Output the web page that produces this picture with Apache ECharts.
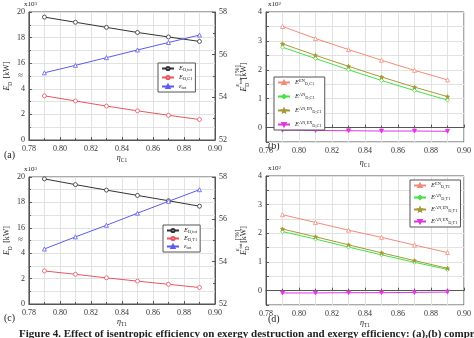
<!DOCTYPE html>
<html><head><meta charset="utf-8">
<script src="https://cdn.jsdelivr.net/npm/echarts@6/dist/echarts.min.js"></script>
<style>html,body{margin:0;padding:0;background:#fff}#c{width:474px;height:338px}</style>
</head><body><div id="c"></div>
<script>
// ---- data ----
const xVals = [0.79, 0.81, 0.83, 0.85, 0.87, 0.89];
// (a) compressor C1
const edTotC1 = [19.6, 19.2, 18.8, 18.4, 18.05, 17.7];
const edC1 = [3.45, 3.05, 2.65, 2.28, 1.93, 1.6];
const epsTotC1 = [55.15, 55.5, 55.86, 56.22, 56.57, 56.92];
// (b) compressor C1 splitting
const enC1 = [3.5, 3.08, 2.7, 2.33, 1.98, 1.65];
const anC1 = [2.78, 2.39, 2.0, 1.63, 1.28, 0.95];
const anEnC1 = [2.9, 2.5, 2.12, 1.75, 1.4, 1.07];
const anExC1 = [-0.09, -0.1, -0.11, -0.12, -0.12, -0.13];
// (c) turbine T1
const edTotT1 = [19.85, 19.4, 18.97, 18.55, 18.13, 17.7];
const edT1 = [2.6, 2.34, 2.06, 1.8, 1.55, 1.3];
const epsTotT1 = [54.6, 55.17, 55.72, 56.29, 56.85, 57.4];
// (d) turbine T1 splitting
const enT1 = [2.65, 2.38, 2.11, 1.86, 1.59, 1.33];
const anT1 = [2.06, 1.8, 1.52, 1.25, 0.99, 0.74];
const anEnT1 = [2.15, 1.88, 1.6, 1.32, 1.05, 0.78];
const anExT1 = [-0.08, -0.08, -0.07, -0.07, -0.06, -0.05];
const xTicks = [0.78, 0.80, 0.82, 0.84, 0.86, 0.88, 0.90];
const leftTicksA = [0, 2, 4, 16, 18, 20];
const rightTicks = [52, 54, 56, 58];

// ---- build ----
const FONT = 'Liberation Serif';
const brk = v => v >= 10 ? v - 10 : v;       // broken axis: 15-20 drawn above 0-5
const pts = (ys, f) => xVals.map((x, i) => [x, f ? f(ys[i]) : ys[i]]);
const mkRich = (base) => ({
  i: {fontStyle: 'italic', fontFamily: FONT, fontSize: base, color: '#222'},
  s: {fontFamily: FONT, fontSize: base * 0.68, color: '#222', verticalAlign: 'bottom', padding: [base * 0.45, 0, 0, 0]},
  p: {fontFamily: FONT, fontSize: base * 0.68, color: '#222', verticalAlign: 'top', padding: [0, 0, base * 0.45, 0]},
  n: {fontFamily: FONT, fontSize: base, color: '#222'}
});
const rich = mkRich(8);
const lrich = mkRich(6.5);
const grids = [
  {left: 22, top: 12, width: 193, height: 128},
  {left: 266, top: 12, width: 201, height: 130},
  {left: 22, top: 177, width: 193, height: 127},
  {left: 266, top: 176, width: 201, height: 129}
].map(g => Object.assign(g, {show: true, borderColor: '#555', borderWidth: 1, containLabel: false}));

const gridLine = {show: true, lineStyle: {color: '#e2e2e2', width: 1}};
const xNames = ['{i|η}{s|C1}', '{i|η}{s|C1}', '{i|η}{s|T1}', '{i|η}{s|T1}'];
const xGaps = [14, 17, 14, 14];
const xAxis = grids.map((g, i) => ({
  gridIndex: i, type: 'value', min: 0.78, max: 0.90, interval: 0.02,
  axisLine: {show: true, lineStyle: {color: '#555'}},
  axisTick: {show: true, inside: true, length: 3, lineStyle: {color: '#555'}},
  minorTick: {show: true, splitNumber: 2, length: 2, lineStyle: {color: '#555'}},
  splitLine: gridLine, minorSplitLine: gridLine,
  axisLabel: {fontFamily: FONT, fontSize: 8, color: '#333', margin: 5,
    formatter: v => { const t = xTicks.find(k => Math.abs(k - v) < 1e-6); return t === undefined ? '' : t.toFixed(2); }},
  name: xNames[i], nameLocation: 'middle', nameGap: xGaps[i],
  nameTextStyle: {rich: rich}
}));

function leftBroken(gi) {
  return {gridIndex: gi, type: 'value', min: 0, max: 10, interval: 2,
    axisLine: {show: true, lineStyle: {color: '#555'}},
    axisTick: {show: true, inside: true, length: 3, lineStyle: {color: '#555'}},
    minorTick: {show: true, splitNumber: 2, length: 2, lineStyle: {color: '#555'}},
    splitLine: gridLine, minorSplitLine: gridLine,
    axisLabel: {fontFamily: FONT, fontSize: 8, color: '#333', margin: 4,
      formatter: v => String(leftTicksA[Math.round(v / 2)])},
    name: '{i|E}{s|D} {n|[kW]}', nameLocation: 'middle', nameGap: 11, nameRotate: 90,
    nameTextStyle: {rich: rich}};
}
function rightEps(gi) {
  return {gridIndex: gi, type: 'value', position: 'right', min: 52, max: 58, interval: 2,
    axisLine: {show: true, lineStyle: {color: '#555'}},
    axisTick: {show: true, inside: true, length: 3, lineStyle: {color: '#555'}},
    minorTick: {show: true, splitNumber: 2, length: 2, lineStyle: {color: '#555'}},
    splitLine: {show: false},
    axisLabel: {fontFamily: FONT, fontSize: 8, color: '#333', margin: 4,
      formatter: v => rightTicks.includes(v) ? String(v) : ''},
    name: '{i|ε}{s|tot} {n|[%]}', nameLocation: 'middle', nameGap: 9, nameRotate: 90,
    nameTextStyle: {rich: mkRich(7)}};
}
function leftSplit(gi) {
  return {gridIndex: gi, type: 'value', min: -0.5, max: 4, interval: 0.5,
    axisLine: {show: true, lineStyle: {color: '#555'}},
    axisTick: {show: true, inside: true, length: 3, lineStyle: {color: '#555'}},
    splitLine: gridLine,
    axisLabel: {fontFamily: FONT, fontSize: 8, color: '#333', margin: 4,
      formatter: v => Number.isInteger(v) ? String(v) : ''},
    name: '{i|E}{s|D} {n|[kW]}', nameLocation: 'middle', nameGap: 16, nameRotate: 90,
    nameTextStyle: {rich: rich}};
}
const yAxis = [leftBroken(0), rightEps(0), leftSplit(1), leftBroken(2), rightEps(2), leftSplit(3)];

const STAR = 'path://M0,-10L2.9,-4L9.5,-3.1L4.7,1.5L5.9,8.1L0,5L-5.9,8.1L-4.7,1.5L-9.5,-3.1L-2.9,-4Z';
function line(name, data, xi, yi, color, symbol, filled, rot) {
  return {name: name, type: 'line', xAxisIndex: xi, yAxisIndex: yi, data: data,
    symbol: symbol, symbolSize: 4, symbolRotate: rot || 0, showSymbol: true,
    lineStyle: {color: color, width: 1}, itemStyle: {color: filled ? color : '#fff', borderColor: color, borderWidth: 0.8},
    color: color};
}
const C = {blk: '#333333', red: '#e8555f', blu: '#5b5bee', en: '#f28a78', an: '#45e045', anen: '#a59a35', anex: '#e035e0'};
const series = [
  line('totA', pts(edTotC1, brk), 0, 0, C.blk, 'circle'),
  line('c1A', pts(edC1, brk), 0, 0, C.red, 'circle'),
  line('epsA', pts(epsTotC1), 0, 1, C.blu, 'triangle'),
  line('enB', pts(enC1), 1, 2, C.en, 'triangle'),
  line('anB', pts(anC1), 1, 2, C.an, 'diamond'),
  line('anenB', pts(anEnC1), 1, 2, C.anen, STAR, true),
  line('anexB', pts(anExC1), 1, 2, C.anex, 'triangle', true, 180),
  line('totC', pts(edTotT1, brk), 2, 3, C.blk, 'circle'),
  line('t1C', pts(edT1, brk), 2, 3, C.red, 'circle'),
  line('epsC', pts(epsTotT1), 2, 4, C.blu, 'triangle'),
  line('enD', pts(enT1), 3, 5, C.en, 'triangle'),
  line('anD', pts(anT1), 3, 5, C.an, 'diamond'),
  line('anenD', pts(anEnT1), 3, 5, C.anen, STAR, true),
  line('anexD', pts(anExT1), 3, 5, C.anex, 'triangle', true, 180)
];
const labels = {
  totA: '{i|E}{s|D,tot}', c1A: '{i|E}{s|D,C1}', epsA: '{i|ε}{s|tot}',
  totC: '{i|E}{s|D,tot}', t1C: '{i|E}{s|D,T1}', epsC: '{i|ε}{s|tot}',
  enB: '{i|E}{p|EN}{s|D,C1}', anB: '{i|E}{p|AN}{s|D,C1}', anenB: '{i|E}{p|AN,EN}{s|D,C1}', anexB: '{i|E}{p|AN,EX}{s|D,C1}',
  enD: '{i|E}{p|EN}{s|D,T1}', anD: '{i|E}{p|AN}{s|D,T1}', anenD: '{i|E}{p|AN,EN}{s|D,T1}', anexD: '{i|E}{p|AN,EX}{s|D,T1}'
};
function legend(names, left, top, gap) {
  return {data: names, left: left, top: top, orient: 'vertical', itemWidth: 12, itemHeight: 4, itemGap: gap,
    padding: [2, 3, 2, 3], borderColor: '#555', borderWidth: 1, backgroundColor: '#fff',
    formatter: n => labels[n], textStyle: {fontFamily: FONT, fontSize: 6.5, rich: lrich}};
}
const legends = [
  legend(['totA', 'c1A', 'epsA'], 158, 63, 2),
  legend(['enB', 'anB', 'anenB', 'anexB'], 274, 77, 7),
  legend(['totC', 't1C', 'epsC'], 163, 225, 1),
  legend(['enD', 'anD', 'anenD', 'anexD'], 410, 180, 5)
];
const T = (x, y, text, size, extra) => ({type: 'text', left: x, top: y, silent: true,
  style: Object.assign({text: text, fontFamily: FONT, fontSize: size || 9, fill: '#222', rich: {
    p: {fontFamily: FONT, fontSize: 5, verticalAlign: 'top', fill: '#222'}}}, extra || {})});
const graphic = [
  T(24, 1, 'x10{p|3}', 7), T(268, 1, 'x10{p|2}', 7), T(24, 166, 'x10{p|3}', 7), T(268, 165, 'x10{p|2}', 7),
  T(4, 150, '(a)', 10), T(268, 141, '(b)', 10), T(4, 313, '(c)', 10), T(268, 314, '(d)', 10),
  T(18, 71, '≈', 9, {fill: '#444'}), T(18, 235, '≈', 9, {fill: '#444'}),
  T(19, 329, 'Figure 4. Effect of isentropic efficiency on exergy destruction and exergy efficiency: (a),(b) compressor; (c),(d) turbine.', 11, {fontWeight: 'bold'})
];

const chart = echarts.init(document.getElementById('c'), null, {renderer: 'canvas'});
chart.setOption({animation: false, grid: grids, xAxis: xAxis, yAxis: yAxis, series: series, legend: legends, graphic: graphic});
</script></body></html>
